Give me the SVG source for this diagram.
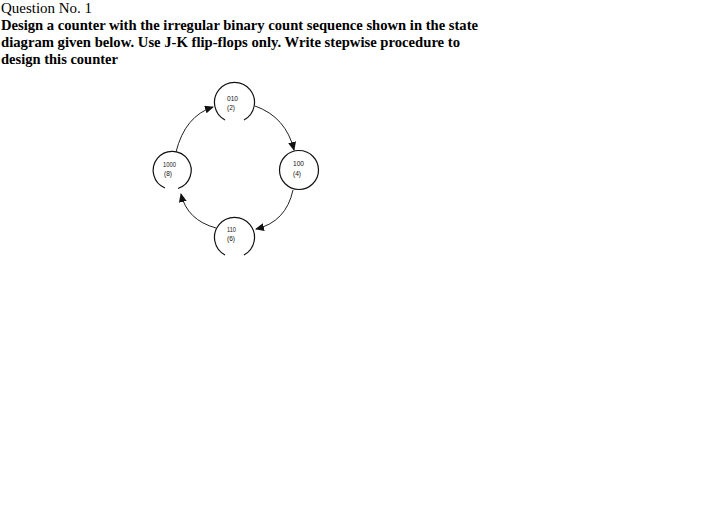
<svg xmlns="http://www.w3.org/2000/svg" width="701" height="509" viewBox="0 0 701 509">
<style>
.q{font-family:"Liberation Serif","Times New Roman",serif;font-size:15px;fill:#000}
.b{font-weight:bold}
.ring{fill:none;stroke:#111;stroke-width:1.2}
.lbl{font-family:"Liberation Sans",Arial,sans-serif;font-size:7px;fill:#111}
.edge{fill:none;stroke:#222;stroke-width:1;marker-end:url(#ah)}
</style>
<defs>
<marker id="ah" markerUnits="userSpaceOnUse" markerWidth="9" markerHeight="8" refX="8" refY="4" orient="auto">
<path d="M0,0 L9,4 L0,8 Z" fill="#111"/>
</marker>
</defs>
<rect width="701" height="509" fill="#fff"/>
<g id="question">
<text class="q" x="1" y="13" textLength="91" lengthAdjust="spacingAndGlyphs">Question No. 1</text>
<text class="q b" x="1" y="30" textLength="477" lengthAdjust="spacingAndGlyphs">Design a counter with the irregular binary count sequence shown in the state</text>
<text class="q b" x="1" y="47" textLength="459" lengthAdjust="spacingAndGlyphs">diagram given below. Use J-K flip-flops only. Write stepwise procedure to</text>
<text class="q b" x="1" y="64" textLength="117" lengthAdjust="spacingAndGlyphs">design this counter</text>
</g>
<g id="connectors">
<path class="edge" d="M176,152 Q185,116 213,107"/>
<path class="edge" d="M255,106 Q286,117 294,150"/>
<path class="edge" d="M293,190 Q286,222 256,229"/>
<path class="edge" d="M216,228 Q187,220 181,194"/>
</g>
<g id="s2">
<path class="ring" d="M225,120 A20,20 0 1 1 244,120"/>
<text class="lbl" x="227" y="101" textLength="11" lengthAdjust="spacingAndGlyphs">010</text>
<text class="lbl" x="227" y="110" textLength="8" lengthAdjust="spacingAndGlyphs">(2)</text>
</g>
<g id="s4">
<circle class="ring" cx="299" cy="170" r="19.5"/>
<text class="lbl" x="293" y="166" textLength="11" lengthAdjust="spacingAndGlyphs">100</text>
<text class="lbl" x="293" y="176" textLength="8" lengthAdjust="spacingAndGlyphs">(4)</text>
</g>
<g id="s6">
<path class="ring" d="M225,255 A20,20 0 1 1 244,255"/>
<text class="lbl" x="227" y="232" textLength="9" lengthAdjust="spacingAndGlyphs">110</text>
<text class="lbl" x="227" y="241" textLength="8" lengthAdjust="spacingAndGlyphs">(6)</text>
</g>
<g id="s8">
<path class="ring" d="M165,188 A19,19 0 1 1 178,188.5"/>
<text class="lbl" x="163" y="167" textLength="13" lengthAdjust="spacingAndGlyphs">1000</text>
<text class="lbl" x="164" y="176" textLength="8" lengthAdjust="spacingAndGlyphs">(8)</text>
</g>
</svg>
